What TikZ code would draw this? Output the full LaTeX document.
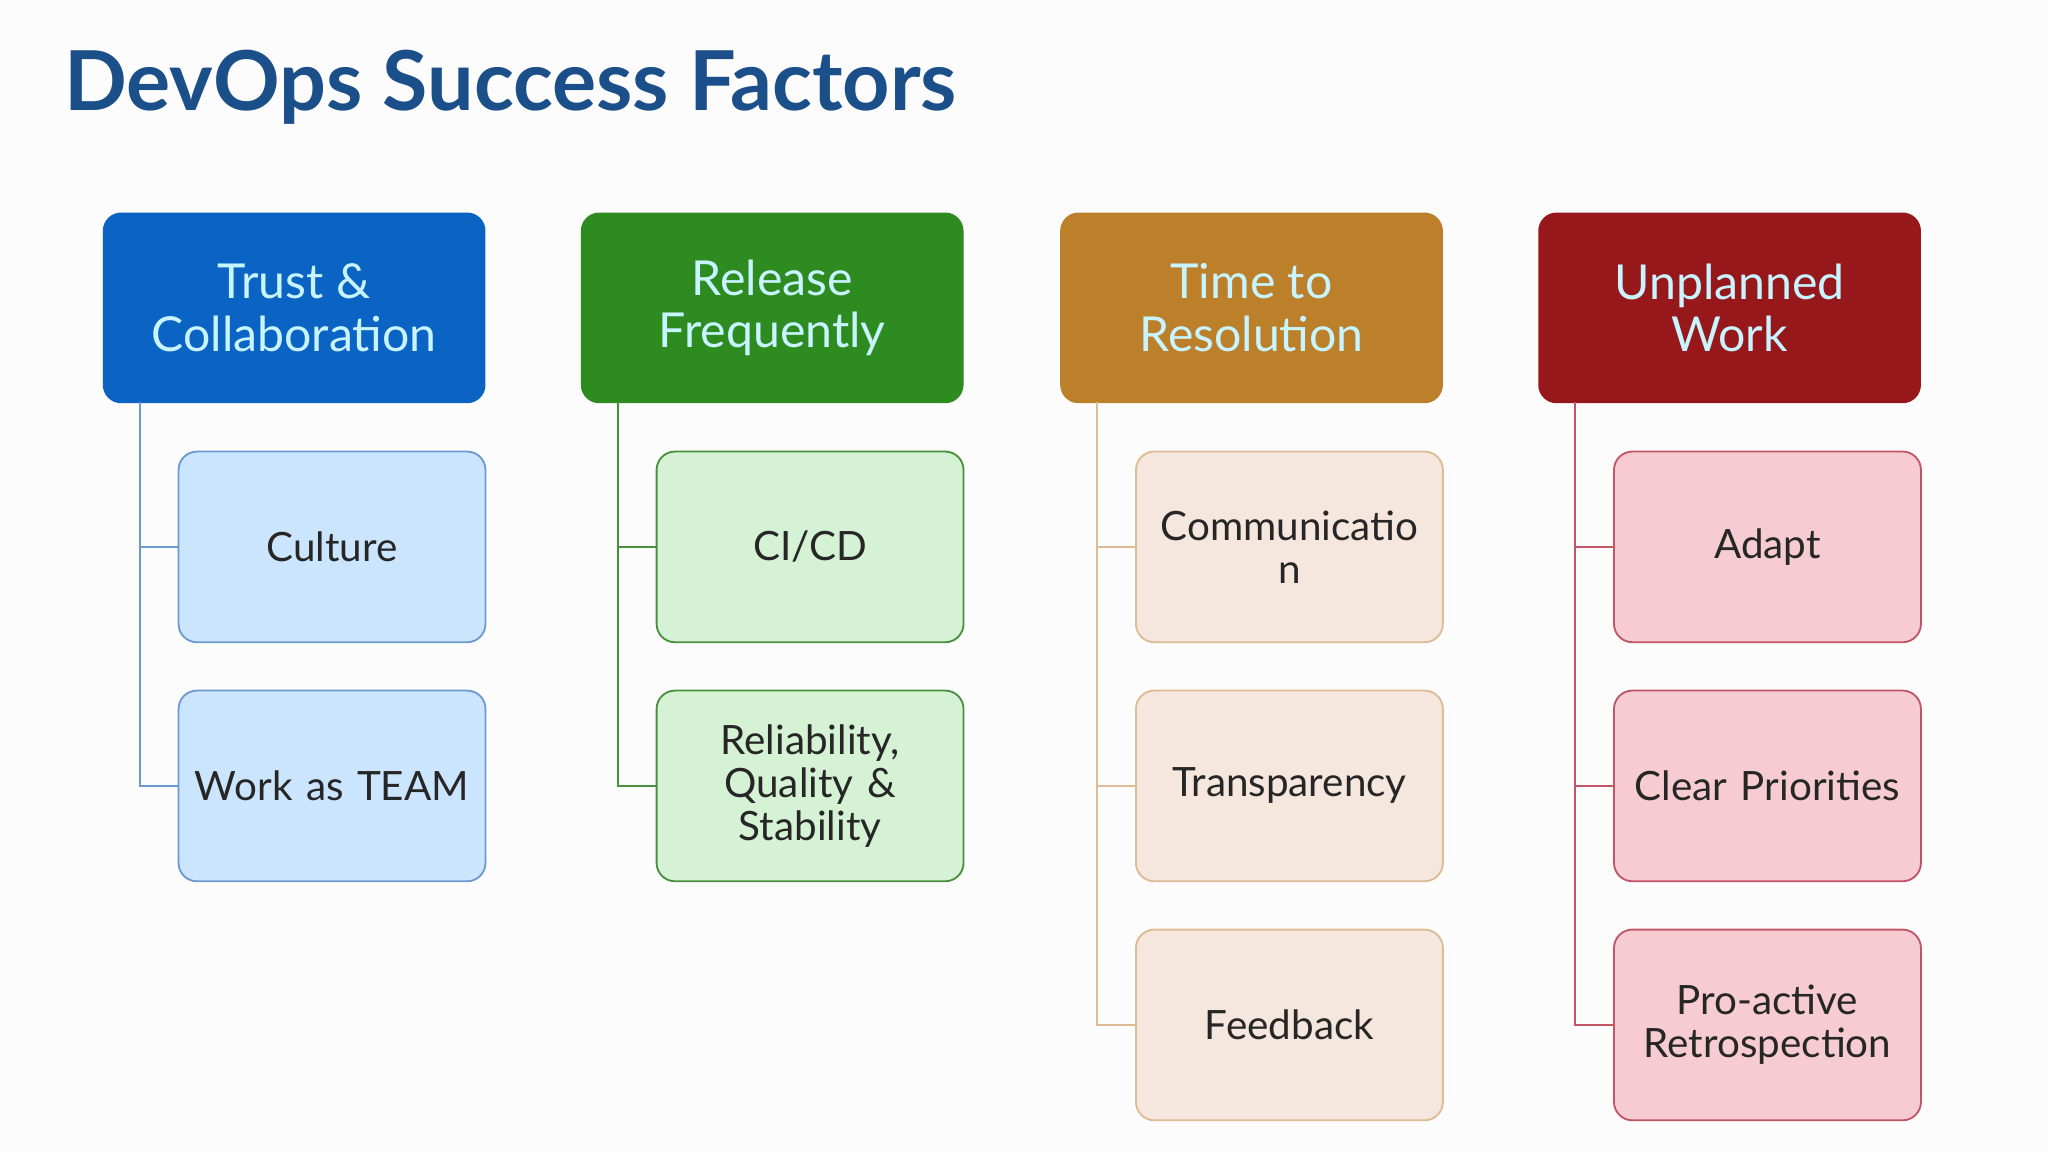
\documentclass[tikz,border=0pt]{standalone}
\usepackage{fontspec}
\setmainfont{Lato}
\definecolor{tblue}{HTML}{1B4F8A}
\definecolor{hA}{HTML}{0B64C4}\definecolor{cA}{HTML}{CCE5FF}\definecolor{bA}{HTML}{6C9AD0}
\definecolor{hB}{HTML}{2E8B1F}\definecolor{cB}{HTML}{D5F2D5}\definecolor{bB}{HTML}{4A8F3E}
\definecolor{hC}{HTML}{BC7F2A}\definecolor{cC}{HTML}{F5E6DE}\definecolor{bC}{HTML}{DDBB95}
\definecolor{hD}{HTML}{97181B}\definecolor{cD}{HTML}{F6CBD2}\definecolor{bD}{HTML}{C25566}
\definecolor{htext}{HTML}{C8F4FF}
\tikzset{
 head/.style={rounded corners=4pt,minimum width=2.93cm,minimum height=1.46cm,inner sep=0pt,align=center,text=htext,font=\fontsize{10.5}{11.5}\selectfont,anchor=north west},
 child/.style={rounded corners=4pt,minimum width=2.35cm,minimum height=1.46cm,inner sep=0pt,align=center,text=black!85,font=\fontsize{8.8}{9.4}\selectfont,anchor=north west,text width=2.2cm},
}
\begin{document}
\begin{tikzpicture}[x=1cm,y=1cm]
\useasboundingbox[fill=white!98!gray] (0,0) rectangle (15.68,-8.82);
\node[anchor=west,text=tblue,font=\bfseries\fontsize{18}{20}\selectfont] (title) at (0.37,-0.67) {DevOps Success Factors};
% columns
\foreach \c/\x/\t in {A/0.78/{Trust \&\\Collaboration},B/4.44/{Release\\Frequently},C/8.11/{Time to\\Resolution},D/11.77/{Unplanned\\Work}}{
 \node[head,fill=h\c] (h\c) at (\x,-1.62) {\t};
}
\foreach \c/\x in {A/0.78,B/4.44,C/8.11,D/11.77}{
 \coordinate (t\c) at (\x+0.29,-3.08);
}
\newcommand{\kid}[5]{% col, x, row y, name, text
 \node[child,fill=c#1,draw=b#1] (#4) at (#2+0.58,#3) {#5};
 \draw[b#1,line width=0.5pt] (t#1) |- (#4.west);
}
\kid{A}{0.78}{-3.45}{a1}{Culture}
\kid{A}{0.78}{-5.28}{a2}{Work as TEAM}
\kid{B}{4.44}{-3.45}{b1}{CI/CD}
\kid{B}{4.44}{-5.28}{b2}{Reliability,\\Quality \&\\Stability}
\kid{C}{8.11}{-3.45}{c1}{Communicatio\\n}
\kid{C}{8.11}{-5.28}{c2}{Transparency}
\kid{C}{8.11}{-7.11}{c3}{Feedback}
\kid{D}{11.77}{-3.45}{d1}{Adapt}
\kid{D}{11.77}{-5.28}{d2}{Clear Priorities}
\kid{D}{11.77}{-7.11}{d3}{Pro-active\\Retrospection}
\end{tikzpicture}
\end{document}
